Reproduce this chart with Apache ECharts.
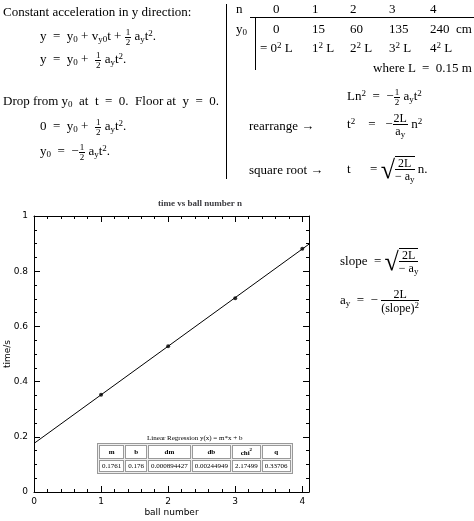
<!DOCTYPE html>
<html><head><meta charset="utf-8">
<script src="https://cdn.jsdelivr.net/npm/echarts@6/dist/echarts.min.js"></script>
<style>
body{margin:0;background:#fff;font-family:"Liberation Serif",serif;font-size:13px;color:#000}
#wrap{position:relative;width:474px;height:521px;overflow:hidden}
#chart{position:absolute;left:0;top:0;width:474px;height:521px}
.t{position:absolute;white-space:nowrap;line-height:1}
.fr{display:inline-flex;flex-direction:column;vertical-align:middle;font-size:9px;text-align:center;line-height:1}
.fr span:first-child{border-bottom:1px solid #000;padding:0 1px}
.big .fr{font-size:12px}
sub{font-size:9px;vertical-align:-2px}
sup{font-size:9px;vertical-align:4px}
.rad{display:inline-block;border-top:1px solid #000;vertical-align:middle}
#reg{position:absolute;left:97px;top:434px;font-family:"Liberation Serif",serif;font-size:7px}
#reg table{border-collapse:separate;border-spacing:1px;border:1px solid #999;background:#eee}
#reg td{border:1px solid #999;background:#fff;padding:1px 2px;text-align:center}
</style></head><body>
<div id="wrap">
<div id="chart"></div>

<div class="t" style="left:3px;top:5px">Constant acceleration in y direction:</div>
<div class="t" style="left:40px;top:28px">y &nbsp;= &nbsp;y<sub>0</sub> + v<sub>y0</sub>t + <span class="fr"><span>1</span><span>2</span></span> a<sub>y</sub>t<sup>2</sup>.</div>
<div class="t" style="left:40px;top:51px">y &nbsp;= &nbsp;y<sub>0</sub> + &nbsp;<span class="fr"><span>1</span><span>2</span></span> a<sub>y</sub>t<sup>2</sup>.</div>
<div class="t" style="left:3px;top:94px">Drop from y<sub>0</sub> &nbsp;at &nbsp;t &nbsp;= &nbsp;0. &nbsp;Floor at &nbsp;y &nbsp;= &nbsp;0.</div>
<div class="t" style="left:40px;top:118px">0 &nbsp;= &nbsp;y<sub>0</sub> + &nbsp;<span class="fr"><span>1</span><span>2</span></span> a<sub>y</sub>t<sup>2</sup>.</div>
<div class="t" style="left:40px;top:143px">y<sub>0</sub> &nbsp;= &nbsp;&minus;<span class="fr"><span>1</span><span>2</span></span> a<sub>y</sub>t<sup>2</sup>.</div>

<div style="position:absolute;left:226px;top:4px;width:1px;height:175px;background:#000"></div>
<div style="position:absolute;left:250px;top:17px;width:224px;height:1px;background:#000"></div>
<div style="position:absolute;left:255px;top:17px;width:1px;height:53px;background:#000"></div>
<div class="t" style="left:236px;top:2px">n</div>
<div class="t" style="left:236px;top:22px">y<sub>0</sub></div>
<div class="t" style="left:273px;top:2px">0</div><div class="t" style="left:312px;top:2px">1</div><div class="t" style="left:350px;top:2px">2</div><div class="t" style="left:389px;top:2px">3</div><div class="t" style="left:430px;top:2px">4</div>
<div class="t" style="left:273px;top:22px">0</div><div class="t" style="left:312px;top:22px">15</div><div class="t" style="left:350px;top:22px">60</div><div class="t" style="left:389px;top:22px">135</div><div class="t" style="left:430px;top:22px">240 &nbsp;cm</div>
<div class="t" style="left:260px;top:41px">= 0<sup>2</sup> L</div><div class="t" style="left:312px;top:41px">1<sup>2</sup> L</div><div class="t" style="left:350px;top:41px">2<sup>2</sup> L</div><div class="t" style="left:389px;top:41px">3<sup>2</sup> L</div><div class="t" style="left:430px;top:41px">4<sup>2</sup> L</div>
<div class="t" style="left:373px;top:61px">where L &nbsp;= &nbsp;0.15 m</div>
<div class="t" style="left:347px;top:88px">Ln<sup>2</sup> &nbsp;= &nbsp;&minus;<span class="fr"><span>1</span><span>2</span></span> a<sub>y</sub>t<sup>2</sup></div>
<div class="t" style="left:249px;top:119px">rearrange &rarr;</div>
<div class="t big" style="left:347px;top:112px">t<sup>2</sup> &nbsp;&nbsp;&nbsp;= &nbsp;&nbsp;&minus;<span class="fr"><span>2L</span><span>a<sub>y</sub></span></span> n<sup>2</sup></div>
<div class="t" style="left:249px;top:163px">square root &rarr;</div>
<div class="t big" style="left:347px;top:156px">t &nbsp;&nbsp;&nbsp;&nbsp;&nbsp;= <span style="font-size:26px;vertical-align:middle">&radic;</span><span class="rad"><span class="fr"><span>2L</span><span>&minus; a<sub>y</sub></span></span></span> n.</div>

<div class="t big" style="left:340px;top:248px">slope &nbsp;= <span style="font-size:26px;vertical-align:middle">&radic;</span><span class="rad"><span class="fr"><span>2L</span><span>&minus; a<sub>y</sub></span></span></span></div>
<div class="t big" style="left:340px;top:288px">a<sub>y</sub> &nbsp;= &nbsp;&minus; <span class="fr" style="font-size:12px"><span>&nbsp;2L&nbsp;</span><span>(slope)<sup>2</sup></span></span></div>

<div id="reg">
<div style="text-align:center;margin-bottom:1px">Linear Regression y(x) = m*x + b</div>
<table><tr><td><b>m</b></td><td><b>b</b></td><td><b>dm</b></td><td><b>db</b></td><td><b>chi<sup style="font-size:5px">2</sup></b></td><td><b>q</b></td></tr>
<tr><td>0.1761</td><td>0.176</td><td>0.000894427</td><td>0.00244949</td><td>2.17499</td><td>0.33706</td></tr></table>
</div>
</div>
<script>
const ballNumber = [1, 2, 3, 4];
const times = [0.352, 0.528, 0.702, 0.881];
const slope = 0.1761, intercept = 0.176;
const fitX = [0, 4.1];

const chart = echarts.init(document.getElementById('chart'));
function axis(extra) {
    return Object.assign({
        type: 'value',
        axisLine: { show: true, onZero: false, lineStyle: { color: '#000', width: 1 } },
        axisTick: { show: true, inside: true, length: 6, lineStyle: { color: '#000', width: 1 } },
        minorTick: { show: true, splitNumber: 5, length: 3, lineStyle: { color: '#000', width: 1 } },
        splitLine: { show: false },
        axisLabel: { color: '#000', fontFamily: 'DejaVu Sans', fontSize: 9 }
    }, extra);
}
const yMinor = { show: true, splitNumber: 4, length: 3, lineStyle: { color: '#000', width: 1 } };
chart.setOption({
    animation: false,
    title: { text: 'time vs ball number n', left: 153, top: 194, textStyle: { fontFamily: 'Liberation Serif', fontSize: 9, fontWeight: 'bold' } },
    grid: { left: 34, top: 216, width: 275, height: 276, containLabel: false, outerBoundsMode: 'none' },
    xAxis: [
        axis({ position: 'bottom', min: 0, max: 4.1, interval: 1, name: 'ball number', nameLocation: 'middle', nameGap: 16, nameMoveOverlap: false,
            nameTextStyle: { fontFamily: 'DejaVu Sans', fontSize: 9 },
            axisLabel: { color: '#000', fontFamily: 'DejaVu Sans', fontSize: 9, margin: 5, showMaxLabel: false } }),
        axis({ position: 'top', min: 0, max: 4.1, interval: 1, axisLabel: { show: false } })
    ],
    yAxis: [
        axis({ position: 'left', min: 0, max: 1, interval: 0.2, name: 'time/s', nameLocation: 'middle', nameGap: 22, nameMoveOverlap: false,
            nameTextStyle: { fontFamily: 'DejaVu Sans', fontSize: 9 }, minorTick: yMinor,
            axisLabel: { color: '#000', fontFamily: 'DejaVu Sans', fontSize: 9, margin: 6, formatter: v => String(Math.round(v * 10) / 10) } }),
        axis({ position: 'right', min: 0, max: 1, interval: 0.2, minorTick: yMinor, axisLabel: { show: false } })
    ],
    series: [
        { type: 'line', data: fitX.map(x => [x, intercept + slope * x]), showSymbol: false, lineStyle: { color: '#000', width: 1 } },
        { type: 'scatter', data: ballNumber.map((x, i) => [x, times[i]]), symbolSize: 4, itemStyle: { color: '#000' } }
    ]
});
</script>
</body></html>
